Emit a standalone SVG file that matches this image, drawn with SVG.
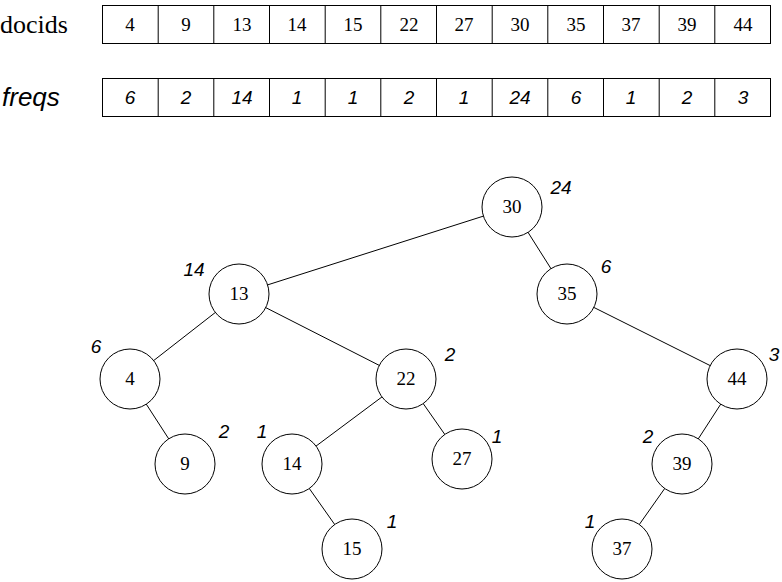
<svg xmlns="http://www.w3.org/2000/svg" width="782" height="582" viewBox="0 0 782 582">
<style>
.c{fill:#fff;stroke:#000;stroke-width:1}
.s{font-family:'Liberation Serif','Times New Roman',Times,serif;font-size:19px;text-anchor:middle}
.i{font-family:'Liberation Sans',Arial,sans-serif;font-style:italic;font-size:19px;text-anchor:middle}
.lab{font-family:'Liberation Serif','Times New Roman',Times,serif;font-size:26px}
.labi{font-family:'Liberation Sans',Arial,sans-serif;font-style:italic;font-size:26px}
line{stroke:#000;stroke-width:1}
</style>
<rect width="782" height="582" fill="#fff"/>
<text class="lab" x="0" y="33">docids</text>
<text class="labi" x="2" y="106">freqs</text>
<g id="docids" fill="none" stroke="#000">
<rect x="102.5" y="5.5" width="668" height="38"/>
<rect x="102.5" y="78.5" width="668" height="38"/>
<path d="M158.2 5.5V43.5M213.8 5.5V43.5M269.5 5.5V43.5M325.2 5.5V43.5M380.8 5.5V43.5M436.5 5.5V43.5M492.2 5.5V43.5M547.8 5.5V43.5M603.5 5.5V43.5M659.2 5.5V43.5M714.8 5.5V43.5"/>
<path d="M158.2 78.5V116.5M213.8 78.5V116.5M269.5 78.5V116.5M325.2 78.5V116.5M380.8 78.5V116.5M436.5 78.5V116.5M492.2 78.5V116.5M547.8 78.5V116.5M603.5 78.5V116.5M659.2 78.5V116.5M714.8 78.5V116.5"/>
</g>
<g class="s">
<text x="130" y="31">4</text><text x="186" y="31">9</text><text x="242" y="31">13</text><text x="297" y="31">14</text><text x="353" y="31">15</text><text x="409" y="31">22</text><text x="464" y="31">27</text><text x="520" y="31">30</text><text x="576" y="31">35</text><text x="631" y="31">37</text><text x="687" y="31">39</text><text x="743" y="31">44</text>
</g>
<g class="i">
<text x="130" y="104">6</text><text x="186" y="104">2</text><text x="242" y="104">14</text><text x="297" y="104">1</text><text x="353" y="104">1</text><text x="409" y="104">2</text><text x="464" y="104">1</text><text x="520" y="104">24</text><text x="576" y="104">6</text><text x="631" y="104">1</text><text x="687" y="104">2</text><text x="743" y="104">3</text>
</g>
<g id="connectors">
<line x1="512" y1="207" x2="239" y2="294"/><line x1="512" y1="207" x2="567" y2="294"/>
<line x1="239" y1="294" x2="130" y2="379"/><line x1="239" y1="294" x2="406" y2="379"/>
<line x1="567" y1="294" x2="737" y2="379"/>
<line x1="130" y1="379" x2="185" y2="464"/>
<line x1="406" y1="379" x2="292" y2="464"/><line x1="406" y1="379" x2="462" y2="459"/>
<line x1="737" y1="379" x2="682" y2="464"/>
<line x1="292" y1="464" x2="352" y2="549"/>
<line x1="682" y1="464" x2="622" y2="549"/>
</g>
<g id="n30"><circle class="c" cx="512" cy="207" r="30"/><text class="s" x="512" y="213">30</text><text class="i" x="561" y="194">24</text></g>
<g id="n13"><circle class="c" cx="239" cy="294" r="30"/><text class="s" x="239" y="300">13</text><text class="i" x="194" y="276">14</text></g>
<g id="n35"><circle class="c" cx="567" cy="294" r="30"/><text class="s" x="567" y="300">35</text><text class="i" x="606" y="273">6</text></g>
<g id="n4"><circle class="c" cx="130" cy="379" r="30"/><text class="s" x="130" y="385">4</text><text class="i" x="96" y="353">6</text></g>
<g id="n22"><circle class="c" cx="406" cy="379" r="30"/><text class="s" x="406" y="385">22</text><text class="i" x="450" y="361">2</text></g>
<g id="n44"><circle class="c" cx="737" cy="379" r="30"/><text class="s" x="737" y="385">44</text><text class="i" x="774" y="361">3</text></g>
<g id="n9"><circle class="c" cx="185" cy="464" r="30"/><text class="s" x="185" y="470">9</text><text class="i" x="224" y="438">2</text></g>
<g id="n14"><circle class="c" cx="292" cy="464" r="30"/><text class="s" x="292" y="470">14</text><text class="i" x="262" y="438">1</text></g>
<g id="n27"><circle class="c" cx="462" cy="459" r="30"/><text class="s" x="462" y="465">27</text><text class="i" x="497" y="443">1</text></g>
<g id="n39"><circle class="c" cx="682" cy="464" r="30"/><text class="s" x="682" y="470">39</text><text class="i" x="648" y="443">2</text></g>
<g id="n15"><circle class="c" cx="352" cy="549" r="30"/><text class="s" x="352" y="555">15</text><text class="i" x="392" y="528">1</text></g>
<g id="n37"><circle class="c" cx="622" cy="549" r="30"/><text class="s" x="622" y="555">37</text><text class="i" x="590" y="528">1</text></g>
</svg>
